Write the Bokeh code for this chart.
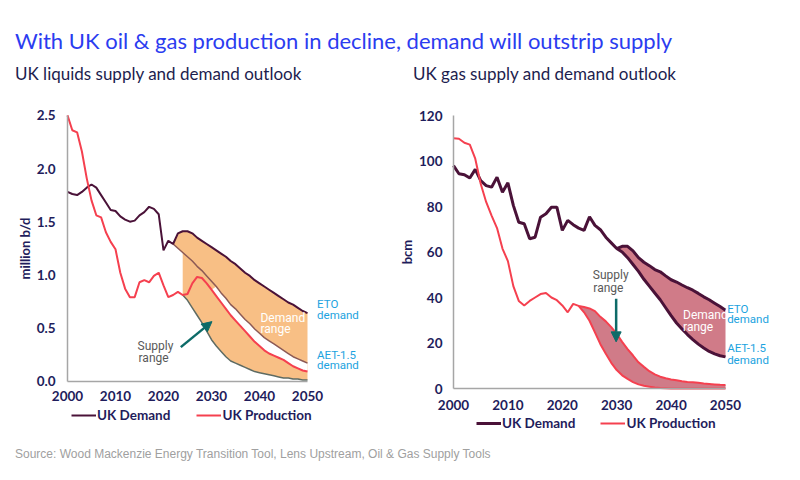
import numpy as np
from bokeh.plotting import figure
from bokeh.models import (Div, Legend, LegendItem, Label, Arrow, NormalHead,
                          FixedTicker, NumeralTickFormatter, Range1d)
from bokeh.layouts import column, row
from bokeh.embed import file_html
from bokeh.resources import INLINE

# ---------------- data ----------------
years = list(range(2000, 2051))

# Liquids (million b/d)
liq_demand = [1.78, 1.76, 1.75, 1.78, 1.82, 1.85, 1.82, 1.75, 1.68, 1.61,
              1.60, 1.55, 1.52, 1.50, 1.51, 1.56, 1.59, 1.64, 1.62, 1.57,
              1.23, 1.32, 1.29, 1.39, 1.41, 1.41, 1.39, 1.35, 1.32, 1.29,
              1.26, 1.23, 1.20, 1.17, 1.13, 1.10, 1.06, 1.02, 0.99, 0.95,
              0.92, 0.89, 0.86, 0.83, 0.80, 0.77, 0.74, 0.72, 0.69, 0.66, 0.64]
liq_production = [2.50, 2.36, 2.34, 2.16, 1.91, 1.70, 1.56, 1.54, 1.40, 1.31,
                  1.24, 1.02, 0.87, 0.79, 0.79, 0.93, 0.95, 0.93, 0.99, 1.02,
                  0.90, 0.79, 0.81, 0.84, 0.81, 0.82, 0.92, 0.98, 0.97, 0.92,
                  0.86, 0.80, 0.74, 0.68, 0.62, 0.57, 0.52, 0.47, 0.42, 0.37,
                  0.33, 0.29, 0.26, 0.24, 0.22, 0.20, 0.17, 0.14, 0.12, 0.10, 0.09]
liq_aet_years = list(range(2022, 2051))
liq_aet_demand = [1.29, 1.25, 1.21, 1.17, 1.13, 1.08, 1.04, 0.99, 0.94, 0.89,
                  0.83, 0.78, 0.72, 0.68, 0.63, 0.58, 0.54, 0.49, 0.45, 0.41,
                  0.38, 0.35, 0.32, 0.29, 0.26, 0.23, 0.21, 0.19, 0.17]
liq_low_years = list(range(2024, 2051))
liq_low_supply = [0.81, 0.76, 0.69, 0.62, 0.55, 0.47, 0.39, 0.33, 0.28, 0.23,
                  0.19, 0.17, 0.15, 0.13, 0.11, 0.09, 0.08, 0.07, 0.06, 0.05,
                  0.04, 0.03, 0.03, 0.02, 0.02, 0.01, 0.01]

# Gas (bcm)
gas_demand = [98.0, 94.4, 94.0, 92.5, 96.3, 91.4, 89.2, 88.5, 92.9, 86.3,
              90.4, 80.5, 73.1, 72.4, 65.8, 66.5, 75.3, 76.8, 79.7, 79.7,
              69.5, 73.9, 72.0, 70.5, 69.5, 75.5, 71.7, 69.8, 66.5, 64.0,
              61.5, 62.5, 62.5, 60.5, 57.5, 55.5, 54.0, 52.3, 51.3, 49.5,
              47.8, 46.8, 45.5, 44.3, 43.2, 41.8, 40.3, 39.0, 37.5, 36.0, 34.4]
gas_production = [110.0, 109.8, 108.0, 107.2, 101.0, 90.0, 82.0, 76.0, 70.5, 61.5,
                  56.0, 45.0, 38.5, 36.5, 38.5, 40.0, 41.5, 42.0, 40.0, 38.8,
                  36.5, 33.5, 37.2, 36.3, 35.8, 35.2, 34.0, 31.5, 29.5, 27.0,
                  24.0, 20.5, 17.3, 14.5, 11.5, 9.5, 7.6, 6.2, 5.2, 4.5,
                  4.0, 3.6, 3.2, 2.9, 2.7, 2.5, 2.2, 2.0, 1.8, 1.6, 1.5]
gas_aet_years = list(range(2030, 2051))
gas_aet_demand = [61.5, 60.0, 57.5, 54.5, 51.5, 48.0, 45.0, 42.0, 39.0, 35.5,
                  32.0, 28.8, 26.2, 23.7, 21.5, 19.5, 17.8, 16.3, 15.2, 14.4, 13.9]
gas_low_years = list(range(2023, 2051))
gas_low_supply = [36.3, 33.5, 29.8, 24.7, 19.5, 15.3, 11.3, 8.1, 5.8, 4.2,
                  2.8, 1.8, 1.2, 0.8, 0.4, 0.2, 0.1, 0.0, 0.0, 0.0,
                  0.0, 0.0, 0.0, 0.0, 0.0, 0.0, 0.0, 0.0]

x_ticks = [2000, 2010, 2020, 2030, 2040, 2050]
liq_y_ticks = [0.0, 0.5, 1.0, 1.5, 2.0, 2.5]
gas_y_ticks = [0, 20, 40, 60, 80, 100, 120]

# ---------------- styles ----------------
NAVY = "#1f1d5c"
DEMAND = "#4a1238"
PROD = "#f5404f"
ORANGE = "#f8bf85"
MAUVE = "#d07b88"
TEAL = "#0d6b68"
BLUE = "#1ca3e0"
FONT = "Lato"
NOTE_FONT = "Roboto"

Y = np.array(years)
LD = np.array(liq_demand)
LP = np.array(liq_production)
GD = np.array(gas_demand)
GP = np.array(gas_production)

X0, X1 = 2000, 2050
HEADROOM = 12  # px of frame kept above the top tick so its label is not clipped


def base_fig(y_top, left_px, plot_w, right_px, plot_px, below_px, top, ticks, fmt,
             ylabel, width=400, height=340):
    # the frame fills the figure; axes sit inside it at x=2000 and y=0,
    # so tick labels, the axis title, side notes and the legend are never clipped
    frame_w = width - right_px
    ppy = plot_w / (X1 - X0)
    x_start = X0 - left_px / ppy
    x_end = X0 + (frame_w - left_px) / ppy
    y_start = -y_top * below_px / plot_px
    y_end = y_top + y_top * HEADROOM / plot_px
    p = figure(width=width, height=height, x_range=Range1d(x_start, x_end),
               y_range=Range1d(y_start, y_end),
               output_backend="svg", toolbar_location=None,
               min_border_left=0, min_border_right=right_px,
               min_border_top=top - HEADROOM, min_border_bottom=0)
    p.outline_line_color = None
    p.grid.visible = False
    p.background_fill_color = "white"
    p.border_fill_color = "white"
    for ax in (p.xaxis[0], p.yaxis[0]):
        ax.major_tick_line_color = None
        ax.minor_tick_line_color = None
        ax.major_tick_out = 0
        ax.major_tick_in = 0
        ax.axis_line_color = "#a6a6a6"
        ax.axis_line_width = 1.5
        ax.major_label_text_font = FONT
        ax.major_label_text_font_style = "bold"
        ax.major_label_text_font_size = "13.5px"
        ax.major_label_text_color = NAVY
    p.xaxis.fixed_location = 0
    p.yaxis.fixed_location = X0
    p.xaxis.bounds = (X0, X1)
    p.yaxis.bounds = (0, y_top)
    p.xaxis.ticker = FixedTicker(ticks=x_ticks)
    p.yaxis.ticker = FixedTicker(ticks=ticks)
    p.yaxis.formatter = NumeralTickFormatter(format=fmt)
    p.yaxis.axis_label = ylabel
    p.yaxis.axis_label_text_font = FONT
    p.yaxis.axis_label_text_font_style = "bold"
    p.yaxis.axis_label_text_font_size = "13px"
    p.yaxis.axis_label_text_color = NAVY
    p.yaxis.axis_label_standoff = 1
    return p


def txt(p, x, y, text, color, size="12px", style="normal", font=NOTE_FONT):
    p.add_layout(Label(x=x, y=y, text=text, text_color=color, text_font=font,
                       text_font_size=size, text_align="left", text_baseline="middle",
                       text_font_style=style))


def make_legend(rd, rp, x_off, y_off, spacing):
    return Legend(items=[LegendItem(label="UK Demand", renderers=[rd]),
                         LegendItem(label="UK Production", renderers=[rp])],
                  orientation="horizontal", location=(x_off, y_off), padding=0, margin=0,
                  spacing=spacing, glyph_width=25, glyph_height=20, label_standoff=1,
                  border_line_color=None, background_fill_alpha=0,
                  label_text_font=FONT, label_text_font_style="bold",
                  label_text_font_size="13.5px", label_text_color=NAVY)


# ---------------- liquids ----------------
# 2000 at 67 px, 2050 at 307 px; 2.5 at 111 px, 0 at 380 px, figure bottom 435 px
p1 = base_fig(2.5, 67, 240, 39, 269, 55, 16, liq_y_ticks, "0.0", "million b/d")
p1.xaxis.major_label_standoff = 10
p1.yaxis.major_label_standoff = 12

aet = np.array(liq_aet_demand)
ay = np.array(liq_aet_years)
eto_on_aet = LD[np.isin(Y, ay)]
low = np.array(liq_low_supply)
ly = np.array(liq_low_years)
aet_on_low = aet[np.isin(ay, ly)]
prod_on_low = LP[np.isin(Y, ly)]

p1.varea(x=ay, y1=aet, y2=eto_on_aet, fill_color=ORANGE)
p1.varea(x=ly, y1=low, y2=aet_on_low, fill_color=ORANGE)
# white gap between production and AET demand once they separate
mask = ly >= 2030
gap_top = np.where(ly[mask] == 2030, prod_on_low[mask], aet_on_low[mask])
p1.varea(x=ly[mask], y1=prod_on_low[mask], y2=gap_top, fill_color="white")

p1.line(ly, low, line_color="#5e6b63", line_width=1.5)
p1.line(ay, aet, line_color="#8c5a55", line_width=1.5)
r1d = p1.line(years, liq_demand, line_color=DEMAND, line_width=2)
r1p = p1.line(years, liq_production, line_color=PROD, line_width=2)

p1.add_layout(Arrow(end=NormalHead(size=10, fill_color=TEAL, line_color=TEAL),
                    x_start=2023.6, y_start=0.32, x_end=2030.1, y_end=0.56,
                    line_color=TEAL, line_width=2.5))
txt(p1, 2014.6, 0.33, "Supply", "#595959")
txt(p1, 2014.8, 0.215, "range", "#595959")
txt(p1, 2040.2, 0.59, "Demand", "white")
txt(p1, 2040.2, 0.49, "range", "white")
txt(p1, 2052.0, 0.73, "ETO", BLUE, "11.5px")
txt(p1, 2052.0, 0.625, "demand", BLUE, "11.5px")
txt(p1, 2052.0, 0.25, "AET-1.5", BLUE, "11.5px")
txt(p1, 2052.0, 0.148, "demand", BLUE, "11.5px")

p1.add_layout(make_legend(r1d, r1p, 71, 10, 26))

# ---------------- gas ----------------
# 2000 at 453 px, 2050 at 725 px; 120 at 115 px, 0 at 388 px, figure bottom 435 px
p2 = base_fig(120, 53, 272, 27, 273, 47, 20, gas_y_ticks, "0", "bcm")
p2.xaxis.major_label_standoff = 11
p2.yaxis.major_label_standoff = 11

gaet = np.array(gas_aet_demand)
gay = np.array(gas_aet_years)
glow = np.array(gas_low_supply)
gly = np.array(gas_low_years)
p2.varea(x=gay, y1=gaet, y2=GD[np.isin(Y, gay)], fill_color=MAUVE)
p2.varea(x=gly, y1=glow, y2=GP[np.isin(Y, gly)], fill_color=MAUVE)

p2.line(gly, glow, line_color=PROD, line_width=2)
p2.line(gay, gaet, line_color=DEMAND, line_width=3)
r2d = p2.line(years, gas_demand, line_color=DEMAND, line_width=3)
r2p = p2.line(years, gas_production, line_color=PROD, line_width=2)

p2.add_layout(Arrow(end=NormalHead(size=10, fill_color=TEAL, line_color=TEAL),
                    x_start=2029.9, y_start=39.5, x_end=2029.9, y_end=20.5,
                    line_color=TEAL, line_width=2.5))
txt(p2, 2025.6, 49.7, "Supply", "#595959")
txt(p2, 2025.7, 44.3, "range", "#595959")
txt(p2, 2042.2, 32.2, "Demand", "white")
txt(p2, 2042.2, 27.0, "range", "white")
txt(p2, 2050.3, 35.1, "ETO", BLUE, "11.5px")
txt(p2, 2050.3, 30.7, "demand", BLUE, "11.5px")
txt(p2, 2050.3, 17.6, "AET-1.5", BLUE, "11.5px")
txt(p2, 2050.3, 12.7, "demand", BLUE, "11.5px")

p2.add_layout(make_legend(r2d, r2p, 76, 2, 25))

# ---------------- titles / source ----------------
top = Div(text=(
    '<div style="position:relative;width:800px;height:95px;font-family:Lato, sans-serif;">'
    '<div style="position:absolute;left:15px;top:29px;font-size:22px;line-height:24px;'
    'color:#2b3cf0;white-space:nowrap;">With UK oil &amp; gas production in decline, '
    'demand will outstrip supply</div>'
    '<div style="position:absolute;left:15px;top:64px;font-size:17px;line-height:20px;'
    'color:#1d1d4e;white-space:nowrap;">UK liquids supply and demand outlook</div>'
    '<div style="position:absolute;left:413px;top:64px;font-size:17px;line-height:20px;'
    'color:#1d1d4e;white-space:nowrap;">UK gas supply and demand outlook</div>'
    '</div>'), width=800, height=95, margin=0)

bottom = Div(text=(
    '<div style="position:relative;width:800px;height:45px;">'
    '<div style="position:absolute;left:15px;top:12px;font-family:\'Liberation Sans\', '
    'sans-serif;font-size:12px;line-height:15px;color:#a0a0a0;'
    'white-space:nowrap;">Source: Wood Mackenzie Energy Transition Tool, Lens Upstream, '
    'Oil &amp; Gas Supply Tools</div></div>'), width=800, height=45, margin=0)

layout = column(top, row(p1, p2, spacing=0), bottom, spacing=0)

open("out.html", "w").write(file_html(layout, INLINE))
